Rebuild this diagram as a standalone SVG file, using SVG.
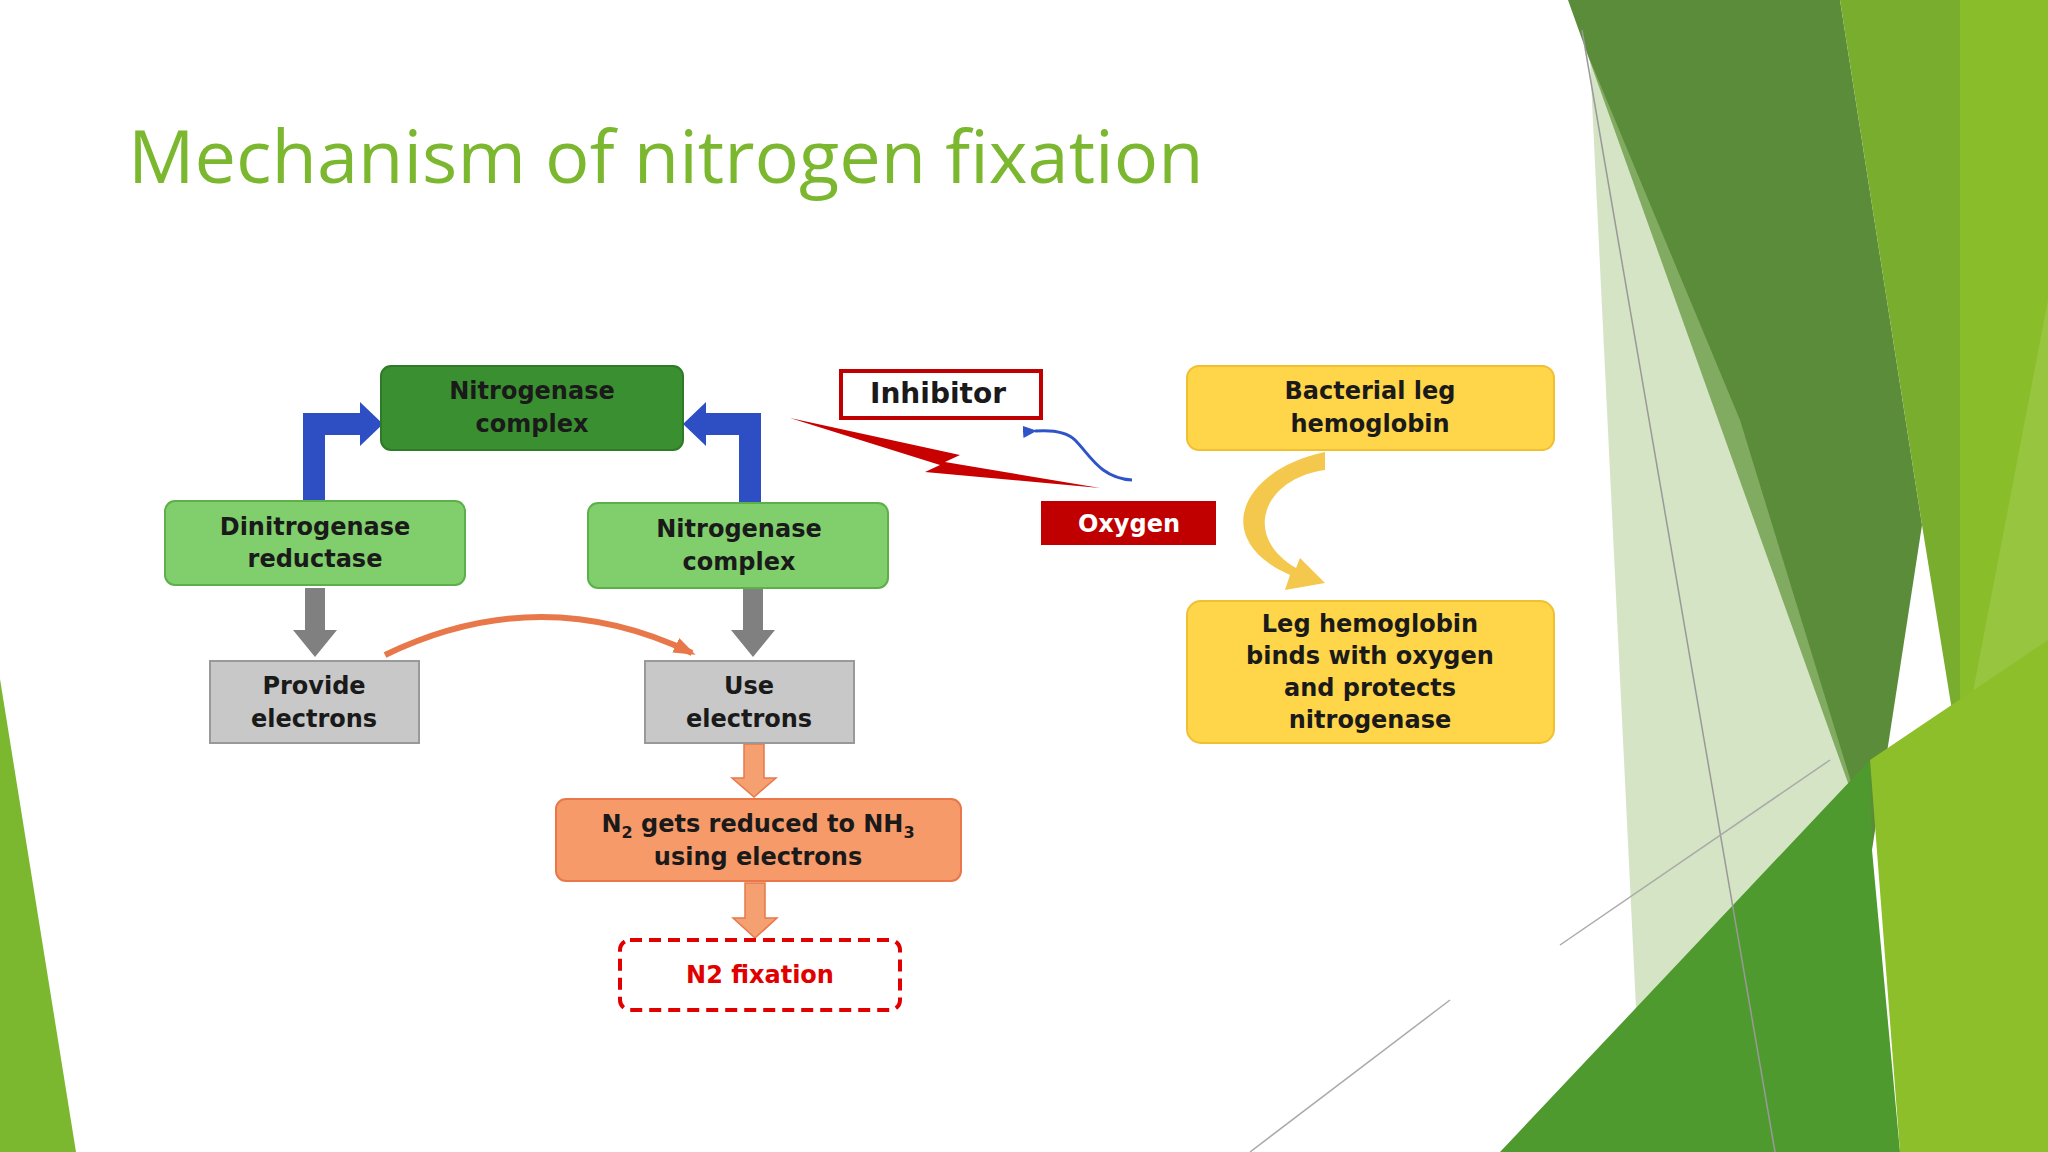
<svg xmlns="http://www.w3.org/2000/svg" width="2048" height="1152" viewBox="0 0 2048 1152">
<style>
.t{font-family:"DejaVu Sans",sans-serif;font-weight:bold;font-size:24px;text-anchor:middle;fill:#1a1a1a}
</style>
<defs>
<marker id="bl" markerWidth="14" markerHeight="12" refX="2" refY="6" orient="auto" markerUnits="userSpaceOnUse"><path d="M14,0L0,6L14,12z" fill="#2e54c8"/></marker>
<marker id="or" markerWidth="22" markerHeight="16" refX="18" refY="8" orient="auto" markerUnits="userSpaceOnUse"><path d="M0,0L22,8L0,16z" fill="#e8784a"/></marker>
</defs>
<rect width="2048" height="1152" fill="#fff"/>
<g id="bg">
<polygon points="0,679 76,1152 0,1152" fill="#7cb82f"/>
<polygon points="1568,0 1840,0 1922,525 1872,850" fill="#5b8c3a"/>
<polygon points="1840,0 2048,0 2048,300 1960,760 1922,525" fill="#79ad2e"/>
<polygon points="1960,0 2048,0 2048,1152 1900,1152 1960,760" fill="#8cbf2a" opacity="0.9"/>
<polygon points="1590,60 1740,420 1872,850 1840,1000 1640,1090" fill="#a9c98a" opacity="0.5"/>
<polygon points="1500,1152 1870,760 1872,850 1900,1152" fill="#4f9a2e"/>
<polygon points="1870,760 2048,640 2048,1152 1900,1152" fill="#8cbf2a"/>
<line x1="1582" y1="30" x2="1775" y2="1152" stroke="#999" stroke-width="1.5"/>
<line x1="1450" y1="1000" x2="1250" y2="1152" stroke="#aaa" stroke-width="1.5"/>
<line x1="1560" y1="945" x2="1830" y2="760" stroke="#aaa" stroke-width="1.5"/>
</g>
<text x="128" y="183" font-family="'Open Sans','DejaVu Sans',sans-serif" font-size="74" fill="#7cb82f">Mechanism of nitrogen fixation</text>
<g id="connectors">
<path d="M314,501 V424 H360" fill="none" stroke="#2e4fc4" stroke-width="22"/>
<path d="M360,402 L383,424 L360,446z" fill="#2e4fc4"/>
<path d="M750,503 V424 H706" fill="none" stroke="#2e4fc4" stroke-width="22"/>
<path d="M706,402 L683,424 L706,446z" fill="#2e4fc4"/>
<path d="M305,588 H325 V630 H337 L315,657 L293,630 H305z" fill="#808080"/>
<path d="M743,588 H763 V630 H775 L753,657 L731,630 H743z" fill="#808080"/>
<path d="M385,655 Q540,580 692,653" fill="none" stroke="#e8784a" stroke-width="6" marker-end="url(#or)"/>
<path d="M744,744 H764 V778 H776 L754,797 L732,778 H744z" fill="#f4a070" stroke="#e8784a" stroke-width="1.5"/>
<path d="M745,883 H765 V918 H777 L755,938 L733,918 H745z" fill="#f4a070" stroke="#e8784a" stroke-width="1.5"/>
<path d="M790,418 L960,455 L945,462 L1100,488 L925,472 L940,465z" fill="#c80000"/>
<path d="M1132,480 C1100,478 1090,455 1075,440 C1065,430 1048,430 1035,431" fill="none" stroke="#2e54c8" stroke-width="3" marker-end="url(#bl)"/>
<path d="M1325,452 C1240,470 1210,540 1290,575 L1285,590 L1325,583 L1300,558 L1296,568 C1240,535 1265,478 1325,470z" fill="#f2c23a" opacity="0.9"/>
</g>
<g id="n1"><rect x="381" y="366" width="302" height="84" rx="10" fill="#3a9030" stroke="#2f7a28" stroke-width="2"/><text class="t" x="532" y="399">Nitrogenase</text><text class="t" x="532" y="432">complex</text></g>
<g id="n2"><rect x="165" y="501" width="300" height="84" rx="10" fill="#80cf6c" stroke="#5cb04a" stroke-width="2"/><text class="t" x="315" y="535">Dinitrogenase</text><text class="t" x="315" y="567">reductase</text></g>
<g id="n3"><rect x="588" y="503" width="300" height="85" rx="10" fill="#80cf6c" stroke="#5cb04a" stroke-width="2"/><text class="t" x="739" y="537">Nitrogenase</text><text class="t" x="739" y="570">complex</text></g>
<g id="n4"><rect x="210" y="661" width="209" height="82" fill="#c8c8c8" stroke="#999" stroke-width="2"/><text class="t" x="314" y="694">Provide</text><text class="t" x="314" y="727">electrons</text></g>
<g id="n5"><rect x="645" y="661" width="209" height="82" fill="#c8c8c8" stroke="#999" stroke-width="2"/><text class="t" x="749" y="694">Use</text><text class="t" x="749" y="727">electrons</text></g>
<g id="n6"><rect x="556" y="799" width="405" height="82" rx="10" fill="#f79a6a" stroke="#e8784a" stroke-width="2"/><text class="t" x="758" y="832">N<tspan font-size="16" dy="6">2</tspan><tspan dy="-6"> gets reduced to NH</tspan><tspan font-size="16" dy="6">3</tspan></text><text class="t" x="758" y="865">using electrons</text></g>
<g id="n7"><rect x="620" y="940" width="280" height="70" rx="10" fill="#fff" stroke="#e00000" stroke-width="4" stroke-dasharray="12,7"/><text class="t" x="760" y="983" style="fill:#e00000">N2 fixation</text></g>
<g id="n8"><rect x="841" y="371" width="200" height="47" fill="#fff" stroke="#c00000" stroke-width="4"/><text class="t" x="938" y="403" style="font-size:28px">Inhibitor</text></g>
<g id="n9"><rect x="1041" y="501" width="175" height="44" fill="#c00000"/><text class="t" x="1129" y="532" style="fill:#fff">Oxygen</text></g>
<g id="n10"><rect x="1187" y="366" width="367" height="84" rx="12" fill="#ffd54a" stroke="#f0c030" stroke-width="2"/><text class="t" x="1370" y="399">Bacterial leg</text><text class="t" x="1370" y="432">hemoglobin</text></g>
<g id="n11"><rect x="1187" y="601" width="367" height="142" rx="14" fill="#ffd54a" stroke="#f0c030" stroke-width="2"/><text class="t" x="1370" y="632">Leg hemoglobin</text><text class="t" x="1370" y="664">binds with oxygen</text><text class="t" x="1370" y="696">and protects</text><text class="t" x="1370" y="728">nitrogenase</text></g>
</svg>
